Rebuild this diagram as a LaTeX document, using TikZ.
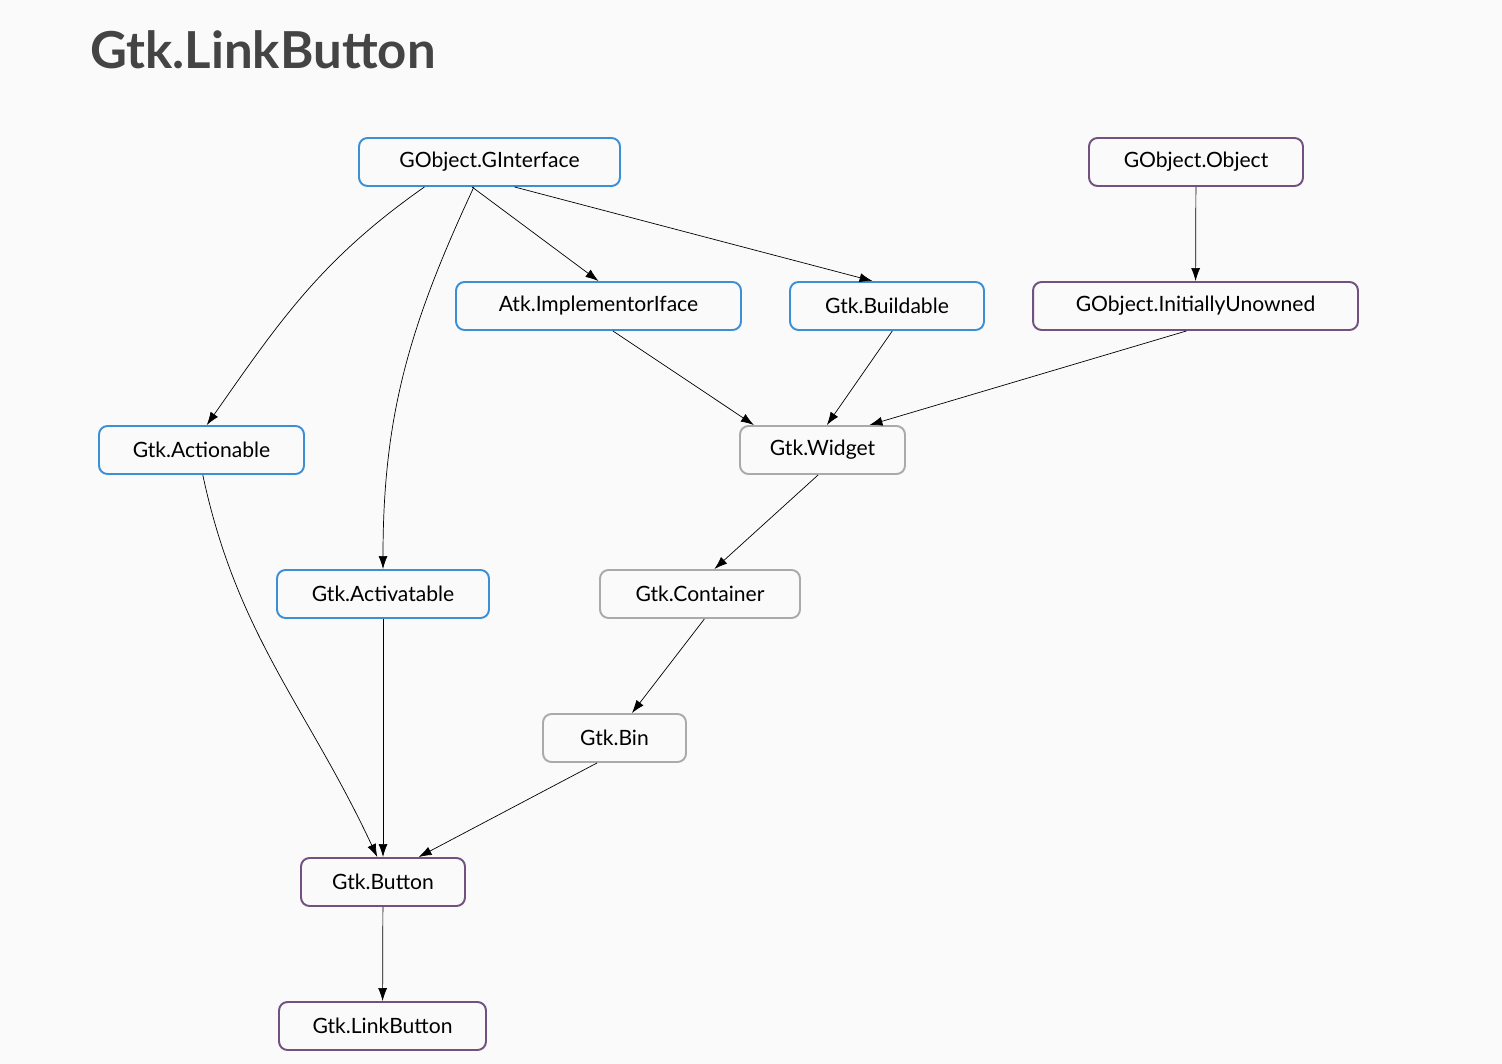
\documentclass[tikz,border=0pt]{standalone}
\usepackage{fontspec}
\setmainfont{Lato}
\usetikzlibrary{arrows.meta}
\definecolor{ifaceblue}{HTML}{3A8FD6}
\definecolor{objpurple}{HTML}{72507F}
\definecolor{classgray}{HTML}{AAAAAA}
\definecolor{titlegray}{HTML}{444444}
\begin{document}
\begin{tikzpicture}[x=0.02cm, y=-0.02cm,
    box/.style={draw, rounded corners=0.17cm, line width=1.1pt, minimum height=0.96cm, font=\fontsize{12}{14}\selectfont, inner xsep=0pt},
    iface/.style={box, draw=ifaceblue},
    obj/.style={box, draw=objpurple},
    cls/.style={box, draw=classgray},
    >={Latex[length=2.6mm, width=1.8mm]}]
  \fill[white!98!black] (0,0) rectangle (1502,1064);
  \node[anchor=west, font=\fontsize{29}{34}\selectfont\bfseries, text=titlegray] (title) at (84,50) {Gtk.LinkButton};
  \node (gi) at (489.5,162) [iface, minimum width=5.22cm] {GObject.GInterface};
  \node (go) at (1196,162) [obj, minimum width=4.28cm] {GObject.Object};
  \node (atk) at (598.5,306) [iface, minimum width=5.7cm] {Atk.ImplementorIface};
  \node (bld) at (887,306) [iface, minimum width=3.88cm] {Gtk.Buildable};
  \node (iu) at (1195.5,306) [obj, minimum width=6.5cm] {GObject.InitiallyUnowned};
  \node (acn) at (201.5,450) [iface, minimum width=4.1cm] {Gtk.Actionable};
  \node (wid) at (822.5,450) [cls, minimum width=3.3cm] {Gtk.Widget};
  \node (acv) at (383,594) [iface, minimum width=4.24cm] {Gtk.Activatable};
  \node (con) at (700,594) [cls, minimum width=4cm] {Gtk.Container};
  \node (bin) at (614.5,738) [cls, minimum width=2.86cm] {Gtk.Bin};
  \node (btn) at (383,882) [obj, minimum width=3.28cm] {Gtk.Button};
  \node (lb) at (382.5,1026) [obj, minimum width=4.14cm] {Gtk.LinkButton};
  \foreach \source/\dest in {gi.-125/atk.-270, gi.-45/bld.120, go/iu, atk.-60/wid.160, bld.-78/wid.80, iu.-110/wid.28, wid.-100/con.60, con.-80/bin.55, bin.-125/btn.35, acv/btn, btn/lb}
    \draw[->] (\source) -- (\dest);
  \draw[->] (gi.-159) to[out=-145, in=55] (acn.78);
  \draw[->] (gi.-122) to[out=-115, in=90] (acv.north);
  \draw[->] (acn.-87) to[out=-78, in=115] (btn.103);
\end{tikzpicture}
\end{document}
